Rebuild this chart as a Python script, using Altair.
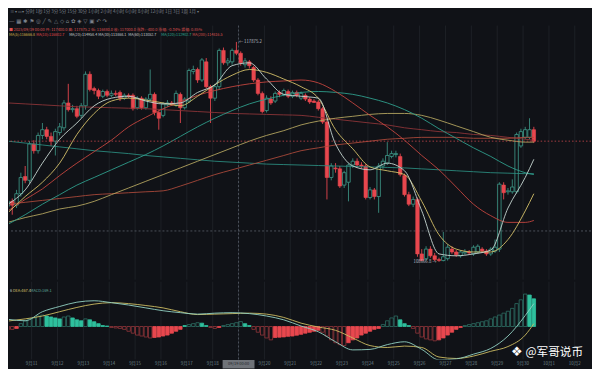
import altair as alt
import pandas as pd
import numpy as np

# ---------------- data ----------------
opens = [111000, 111200, 111040, 111520, 112240, 112080, 113600, 113320, 113960, 114200,
         113920, 113720, 114080, 114280, 115320, 115040, 115080, 114800, 115200, 116520,
         115920, 115840, 115600, 115800, 115640, 115720, 115760, 115520, 115640, 115640,
         115120, 115520, 115120, 115480, 115680, 114920, 114800, 115240, 115320, 115240,
         115680, 115120, 115400, 116640, 116720, 116280, 117040, 116000, 115520, 116000,
         117520, 117000, 117040, 117520, 117400, 116920, 117040, 116800, 116280, 115720,
         115000, 115480, 115400, 115760, 115680, 115800, 115600, 115760, 115520, 115640,
         115480, 115400, 115360, 115080, 114520, 112200, 112600, 112560, 111880, 112000,
         112720, 112880, 112720, 112680, 111360, 111680, 111400, 112680, 112800, 113080,
         113160, 113080, 112280, 111480, 111080, 111280, 109000, 108800, 109200, 108920,
         108760, 108720, 108800, 109200, 109080, 108920, 109040, 109080, 109000, 109080,
         109200, 109120, 109000, 109120, 109200, 111880, 111600, 111600, 111600, 113520,
         113880, 113880, 114200]
closes = [111200, 111040, 111520, 112200, 112080, 113600, 113320, 113960, 114200, 113920,
          113720, 114120, 114320, 115320, 115040, 115080, 114760, 115200, 116520, 115880,
          115840, 115600, 115800, 115640, 115720, 115680, 115520, 115640, 115600, 115080,
          115520, 115120, 115480, 115680, 114920, 114680, 115280, 115320, 115280, 115720,
          115120, 115480, 116680, 116720, 116280, 117120, 116000, 115520, 116000, 117520,
          117000, 117080, 117520, 117400, 117000, 117080, 116880, 116280, 115720, 114960,
          115520, 115320, 115720, 115680, 115840, 115600, 115760, 115640, 115720, 115480,
          115360, 115340, 115080, 114520, 112200, 112680, 112560, 111840, 112400, 112720,
          112880, 112720, 112680, 111360, 111680, 111400, 112680, 112880, 113120, 113200,
          113200, 112320, 111480, 111080, 111280, 109000, 108720, 109200, 108920, 108760,
          108720, 108880, 109280, 109080, 108960, 109080, 109080, 109040, 109280, 109320,
          109120, 109000, 109200, 109280, 111920, 111560, 111640, 111800, 114000, 114120,
          114200, 114200, 113720]
highs = [111360, 111320, 111680, 112400, 112680, 113720, 113760, 114080, 114480, 114320,
         114080, 114240, 114480, 115440, 116120, 115240, 115200, 115320, 116640, 116640,
         116000, 115920, 115880, 115880, 115840, 115840, 115840, 115720, 115720, 115720,
         115600, 115600, 115560, 116720, 115760, 115000, 115360, 115440, 115400, 115840,
         115760, 115560, 116760, 116880, 116800, 117200, 117200, 116080, 116120, 117600,
         117640, 117200, 117600, 117875.2, 117480, 117200, 117120, 116880, 116360, 115800,
         115640, 115600, 115800, 115840, 115920, 115880, 115840, 115840, 115800, 115720,
         115560, 115480, 115440, 115160, 114600, 112800, 112800, 112680, 112480, 112800,
         113000, 113000, 112840, 112760, 111800, 111760, 112800, 113000, 113680, 113320,
         113320, 113200, 112360, 111600, 111400, 111360, 109200, 109320, 109320, 109040,
         108840, 109920, 109400, 109320, 109160, 109160, 109200, 109160, 109360, 109400,
         109280, 109200, 109280, 109600, 112000, 112000, 111760, 112120, 114080, 114240,
         114320, 114680, 114320]
lows = [110720, 110640, 110920, 111400, 111960, 111960, 113200, 113200, 113800, 113800,
        113520, 113120, 113960, 114160, 114960, 114920, 114680, 114680, 115040, 115800,
        115680, 115480, 115520, 115560, 115560, 115600, 115400, 115440, 115520, 115000,
        115040, 115040, 115040, 115400, 114800, 114200, 114720, 115160, 115200, 115160,
        114480, 115040, 115320, 116520, 116160, 116200, 115920, 114480, 115400, 115880,
        116920, 116880, 116920, 117320, 116880, 116800, 116760, 116200, 115640, 114880,
        114920, 115240, 115320, 115560, 115600, 115520, 115520, 115560, 115440, 115400,
        115280, 115320, 115000, 114440, 111280, 112080, 112400, 111760, 111760, 111200,
        112600, 112600, 112560, 111280, 111280, 111280, 110720, 112560, 112720, 113000,
        113040, 112240, 111400, 111000, 110960, 108880, 108700, 108720, 108840, 108700,
        108666.8, 108690, 108720, 109000, 108880, 108840, 108960, 108960, 108920, 109000,
        109040, 108920, 108920, 109040, 109080, 111280, 111480, 111520, 111520, 113440,
        113800, 113800, 113640]

ma_idx = [0, 4, 8, 12, 16, 20, 24, 28, 32, 36, 40, 44, 48, 52, 56, 60,
          64, 68, 72, 76, 80, 84, 88, 92, 96, 100, 104, 108, 112, 116, 120, 122]
ma_fast = [111080, 111680, 112800, 113800, 114480, 115200, 115520, 115600, 115400, 115280,
           115320, 115760, 116080, 116880, 117000, 116320, 115680, 115600, 115520, 113600,
           112680, 112520, 112800, 112480, 110800, 109000, 108920, 109000, 109160, 110920,
           112200, 112960]
ma_yellow = [110720, 111400, 112000, 112800, 114000, 114880, 115400, 115520, 115440, 115320,
             115200, 115600, 116080, 116480, 116720, 116600, 116320, 116000, 115520, 114200,
             113400, 112640, 112480, 112320, 111200, 109800, 109200, 109080, 109080, 109600,
             110800, 111520]
ma_red = [110800, 111280, 111720, 112280, 112800, 113280, 113760, 114320, 114720, 115080,
          115360, 115640, 115840, 116000, 116120, 116200, 116240, 116280, 116160, 115800,
          115320, 114800, 114320, 113760, 113120, 112520, 111800, 111080, 110600, 110320,
          110320, 110400]
ma_rust = [111080, 111160, 111240, 111320, 111400, 111480, 111520, 111560, 111600, 111640,
           111840, 112080, 112320, 112520, 112720, 112920, 113120, 113320, 113440, 113560,
           113640, 113720, 113800, 113840, 113880, 113880, 113880, 113840, 113840, 113840,
           113880, 113880]
ma_maroon = [115320, 115280, 115240, 115200, 115160, 115140, 115120, 115100, 115080, 115040,
             115000, 114960, 114920, 114880, 114860, 114840, 114820, 114800, 114720, 114640,
             114560, 114480, 114400, 114280, 114200, 114120, 114080, 114000, 113960, 113880,
             113800, 113760]
ma_olive = [110320, 110520, 110680, 110880, 111000, 111200, 111480, 111760, 112040, 112320,
            112600, 112880, 113160, 113440, 113720, 113960, 114160, 114400, 114560, 114680,
            114760, 114840, 114880, 114880, 114800, 114600, 114360, 114120, 113880, 113760,
            113680, 113680]
ma_teal = [110240, 110640, 111080, 111480, 111880, 112200, 112520, 112840, 113160, 113520,
           113920, 114320, 114680, 115000, 115280, 115480, 115640, 115760, 115800, 115760,
           115680, 115520, 115320, 115040, 114680, 114240, 113840, 113440, 113080, 112680,
           112400, 112320]
ma_green = [113720, 113640, 113560, 113480, 113400, 113320, 113260, 113200, 113120, 113060,
            113000, 112940, 112880, 112840, 112800, 112760, 112740, 112720, 112700, 112680,
            112660, 112640, 112620, 112600, 112560, 112520, 112480, 112440, 112400, 112380,
            112360, 112360]

dif = [248, 198, 512, 693, 842, 891, 825, 743, 644, 545, 479, 429, 462, 479, 446, 363,
       231, 17, -182, -528, -809, -792, -627, -528, -792, -1155, -1122, -957, -759, -330,
       380, 792]
dea = [188, 264, 363, 512, 660, 776, 825, 792, 726, 644, 512, 413, 429, 446, 462, 429,
       314, 116, -17, -132, -396, -660, -726, -677, -726, -1056, -1106, -1023, -858, -693,
       -297, 99]
hist = [-99, -99, -66, 99, 198, 264, 297, 363, 396, 363,
        330, 297, 264, 330, 363, 297, 231, 198, 264, 231,
        165, 99, 33, 17, -33, -50, -66, -99, -165, -231,
        -297, -330, -363, -396, -380, -363, -330, -297, -231, -165,
        -99, 33, 66, 99, 132, 116, 33, -33, -66, -33,
        33, 66, 99, 132, 169.1, 99, 33, -99, -198, -297,
        -396, -462, -380, -370, -360, -340, -330, -300, -270, -230,
        -200, -165, -130, -198, -330, -462, -561, -627, -660, -561,
        -462, -396, -297, -231, -165, -99, -66, 66, 198, 297,
        363, 231, 99, 33, -66, -231, -363, -429, -462, -495,
        -462, -396, -297, -198, -99, -33, 33, 66, 99, 132,
        165, 198, 264, 330, 396, 462, 528, 627, 792, 924,
        1122, 1089, 957]

day_labels = ["9月10", "9月11", "9月12", "9月13", "9月14", "9月15", "9月16", "9月17",
              "9月18", "9月19", "9月20", "9月21", "9月22", "9月23", "9月24", "9月25",
              "9月26", "9月27", "9月28", "9月29", "9月30", "10月1", "10月2"]
crosshair_index = 53.5
crosshair_price = 109960
crosshair_label = "09/19 00:00"

toolbar_text = "≡  ▾   ▭▾   分时  1秒  1分  3分  5分  15分  30分  1小时  2小时  4小时  6小时  8小时  12小时  1日  3日  1周  1月  ▾"
icons_text = "—  ▦  ✱  ⚑  ◎  ╱  ✎  △  ◇  ⌂  ✿  ◈  ▽  ▣  ↶  ↷"
ohlc_text = "■ 2025/09/19 00:00  开: 117400.0  高: 117875.2  低: 116880.0  收: 117000.0  涨跌: -400.0  涨幅: -0.34%  振幅: 0.85%"
ma_labels = ["MA(5):116666.8", "MA(10):116802.7", "MA(20):114958.4", "MA(30):113868.1",
             "MA(60):113052.7", "MA(120):112902.7", "MA(200):114816.5"]
macd_labels = ["6", "DEA:467.4", "MACD:169.1"]
watermark = "@军哥说币"

# ---------------- styles ----------------
FONT = "Noto Sans CJK SC"
BG = "#101217"
GRID = "#1d2026"
UP = "#3a8e7f"
DOWN = "#e8474e"
TEAL = "#2ec09d"
TEAL_D = "#2d7064"
RED_D = "#93363b"
CROSS = "#59606a"
LBL = "#b9bec6"

W, H_HEAD, H_PRICE, H_MACD = 584, 15, 255, 78
S = 584 / 600.0

x_scale = alt.Scale(domain=[0.2475, 135.26], nice=False, zero=False)
p_scale = alt.Scale(domain=[107920, 118560], nice=False, zero=False)
m_scale = alt.Scale(domain=[-1138.5, 1551], nice=False, zero=False)


def X(f):
    return alt.X(f, type="quantitative", scale=x_scale, axis=None)


def YP(f):
    return alt.Y(f, type="quantitative", scale=p_scale, axis=None)


def YM(f):
    return alt.Y(f, type="quantitative", scale=m_scale, axis=None)


n = len(opens)
cd = pd.DataFrame({"i": list(range(n)), "o": opens, "h": highs, "l": lows, "c": closes})
cd["x1"] = cd["i"] - 0.4
cd["x2"] = cd["i"] + 0.4
up = cd[cd["c"] >= cd["o"]]
dn = cd[cd["c"] < cd["o"]]

ticks = pd.DataFrame({"i": [6 * d - 0.5 for d in range(1, len(day_labels))],
                      "t": day_labels[1:]})
tick_labels = ticks[ticks["t"] != "9月19"]
one = pd.DataFrame({"k": [0]})

# ---------------- header ----------------
header = alt.layer(
    alt.Chart(one).mark_text(text=toolbar_text, align="left", baseline="middle",
                             fontSize=4.5, color="#7b818a", font=FONT)
    .encode(x=alt.value(1), y=alt.value(2.4)),
    alt.Chart(one).mark_text(text=icons_text, align="left", baseline="middle",
                             fontSize=5.5, color="#7b818a", font="DejaVu Sans")
    .encode(x=alt.value(0), y=alt.value(11.5)),
).properties(width=W, height=H_HEAD)

# ---------------- price panel ----------------
layers = [
    alt.Chart(ticks).mark_rule(color=GRID, strokeWidth=1).encode(x=X("i")),
    alt.Chart(pd.DataFrame({"i": [crosshair_index]})).mark_rule(
        color=CROSS, strokeDash=[2, 2], strokeWidth=0.8).encode(x=X("i")),
    alt.Chart(pd.DataFrame({"p": [crosshair_price]})).mark_rule(
        color=CROSS, strokeDash=[2, 2], strokeWidth=0.8).encode(y=YP("p")),
    alt.Chart(up).mark_rule(color=UP, strokeWidth=0.9, clip=True).encode(
        x=X("i"), y=YP("l"), y2=alt.Y2("h")),
    alt.Chart(dn).mark_rule(color=DOWN, strokeWidth=0.9, clip=True).encode(
        x=X("i"), y=YP("l"), y2=alt.Y2("h")),
    alt.Chart(up).mark_rect(fill=BG, stroke=UP, strokeWidth=0.9, clip=True).encode(
        x=X("x1"), x2=alt.X2("x2"), y=YP("o"), y2=alt.Y2("c")),
    alt.Chart(dn).mark_rect(fill=DOWN, stroke=DOWN, strokeWidth=0.6, clip=True).encode(
        x=X("x1"), x2=alt.X2("x2"), y=YP("o"), y2=alt.Y2("c")),
]

ma_specs = [
    (ma_maroon, "#8c3538"),
    (ma_green, "#2b8a7d"),
    (ma_rust, "#a9493a"),
    (ma_olive, "#b3a45f"),
    (ma_teal, "#2f9e8c"),
    (ma_red, "#c4453f"),
    (ma_yellow, "#d6c26a"),
    (ma_fast, "#c7d7d2"),
]
for vals, col in ma_specs:
    layers.append(
        alt.Chart(pd.DataFrame({"i": ma_idx, "p": vals}))
        .mark_line(color=col, strokeWidth=0.9, interpolate="monotone", clip=True)
        .encode(x=X("i"), y=YP("p"))
    )

layers.append(
    alt.Chart(pd.DataFrame({"p": [closes[-1]]})).mark_rule(
        color="#c9474d", strokeDash=[1.5, 2], strokeWidth=0.8).encode(y=YP("p"))
)

hi_i = max(range(n), key=lambda k: highs[k])
lo_i = min(range(n), key=lambda k: lows[k])
hi_df = pd.DataFrame({"i": [hi_i], "p": [highs[hi_i]], "t": ["← %.1f" % highs[hi_i]]})
lo_df = pd.DataFrame({"i": [lo_i], "p": [lows[lo_i]], "t": ["%.1f →" % lows[lo_i]]})
layers.append(alt.Chart(hi_df).mark_text(align="left", baseline="middle", dx=2.5,
                                         fontSize=4.3, color=LBL, font=FONT)
              .encode(x=X("i"), y=YP("p"), text="t:N"))
layers.append(alt.Chart(lo_df).mark_text(align="right", baseline="middle", dx=-2.5,
                                         fontSize=4.3, color=LBL, font=FONT)
              .encode(x=X("i"), y=YP("p"), text="t:N"))

layers.append(alt.Chart(one).mark_text(text=ohlc_text, align="left", baseline="middle",
                                       fontSize=3.9, color="#d9504f", font=FONT)
              .encode(x=alt.value(0), y=alt.value(4.5)))
ma_label_x = [0, 28, 62, 92, 123, 157, 189]
ma_label_colors = ["#d4b44c", "#e0484d", "#c8cbd0", "#c8cbd0", "#c8cbd0", "#2fae95", "#d9534f"]
for t, xr, col in zip(ma_labels, ma_label_x, ma_label_colors):
    layers.append(alt.Chart(one).mark_text(text=t, align="left", baseline="middle",
                                           fontSize=3.7, color=col, font=FONT)
                  .encode(x=alt.value(xr * S), y=alt.value(9.3)))

price = alt.layer(*layers).properties(width=W, height=H_PRICE)

# ---------------- MACD panel ----------------
hd = pd.DataFrame({"i": list(range(n)), "v": hist})
prev = hd["v"].shift(1).fillna(0)
grow = hd["v"].abs() >= prev.abs()
pos = hd["v"] >= 0
hd["fillc"] = np.select([pos & grow, pos & ~grow, ~pos & grow], [BG, TEAL, BG], default=DOWN)
hd["strokec"] = np.select([pos & grow, pos & ~grow, ~pos & grow], [TEAL_D, TEAL, RED_D], default=DOWN)
hd["x1"] = hd["i"] - 0.4
hd["x2"] = hd["i"] + 0.4
hd["zero"] = 0

mlayers = [
    alt.Chart(ticks).mark_rule(color=GRID, strokeWidth=1).encode(x=X("i")),
    alt.Chart(pd.DataFrame({"i": [crosshair_index]})).mark_rule(
        color=CROSS, strokeDash=[2, 2], strokeWidth=0.8).encode(x=X("i")),
    alt.Chart(hd).mark_rect(strokeWidth=0.8, clip=True).encode(
        x=X("x1"), x2=alt.X2("x2"), y=YM("v"), y2=alt.Y2("zero"),
        fill=alt.Fill("fillc:N", scale=None), stroke=alt.Stroke("strokec:N", scale=None)),
    alt.Chart(pd.DataFrame({"i": ma_idx, "v": dea})).mark_line(
        color="#cdbd62", strokeWidth=0.9, interpolate="monotone", clip=True).encode(
        x=X("i"), y=YM("v")),
    alt.Chart(pd.DataFrame({"i": ma_idx, "v": dif})).mark_line(
        color="#93d2c4", strokeWidth=0.9, interpolate="monotone", clip=True).encode(
        x=X("i"), y=YM("v")),
]
for t, xr, col in zip(macd_labels, [1, 4, 22], ["#c8cbd0", "#d6c26a", "#5fa79a"]):
    mlayers.append(alt.Chart(one).mark_text(text=t, align="left", baseline="middle",
                                            fontSize=3.9, color=col, font=FONT)
                   .encode(x=alt.value(xr * S), y=alt.value(9.6)))

mlayers.append(alt.Chart(one).mark_text(text="❖", align="center", baseline="middle",
                                        fontSize=13, color="#ffffff", font="DejaVu Sans")
               .encode(x=alt.value(523.5 * S), y=alt.value(70.5)))
mlayers.append(alt.Chart(one).mark_text(text=watermark, align="left", baseline="middle",
                                        fontSize=11.7, color="#ffffff", font=FONT)
               .encode(x=alt.value(532.5 * S), y=alt.value(70.8)))

mlayers.append(alt.Chart(tick_labels).mark_text(align="center", baseline="middle",
                                                fontSize=4.5, color="#6b8189", font=FONT)
               .encode(x=X("i"), y=alt.value(83.0), text="t:N"))
box = pd.DataFrame({"a": [crosshair_index - 3.7], "b": [crosshair_index + 3.7],
                    "i": [crosshair_index], "t": [crosshair_label]})
mlayers.append(alt.Chart(box).mark_rect(fill="#6f7379").encode(
    x=X("a"), x2=alt.X2("b"), y=alt.value(78.5), y2=alt.value(87)))
mlayers.append(alt.Chart(box).mark_text(align="center", baseline="middle", fontSize=4,
                                        color="#22252a", font=FONT)
               .encode(x=X("i"), y=alt.value(82.8), text="t:N"))

macd = alt.layer(*mlayers).properties(width=W, height=H_MACD)

chart = (
    alt.vconcat(header, price, macd, spacing=0)
    .properties(padding=0)
    .configure(background=BG)
    .configure_view(stroke=None)
)

chart.save("out.html", embed_options={"renderer": "svg", "actions": False})
